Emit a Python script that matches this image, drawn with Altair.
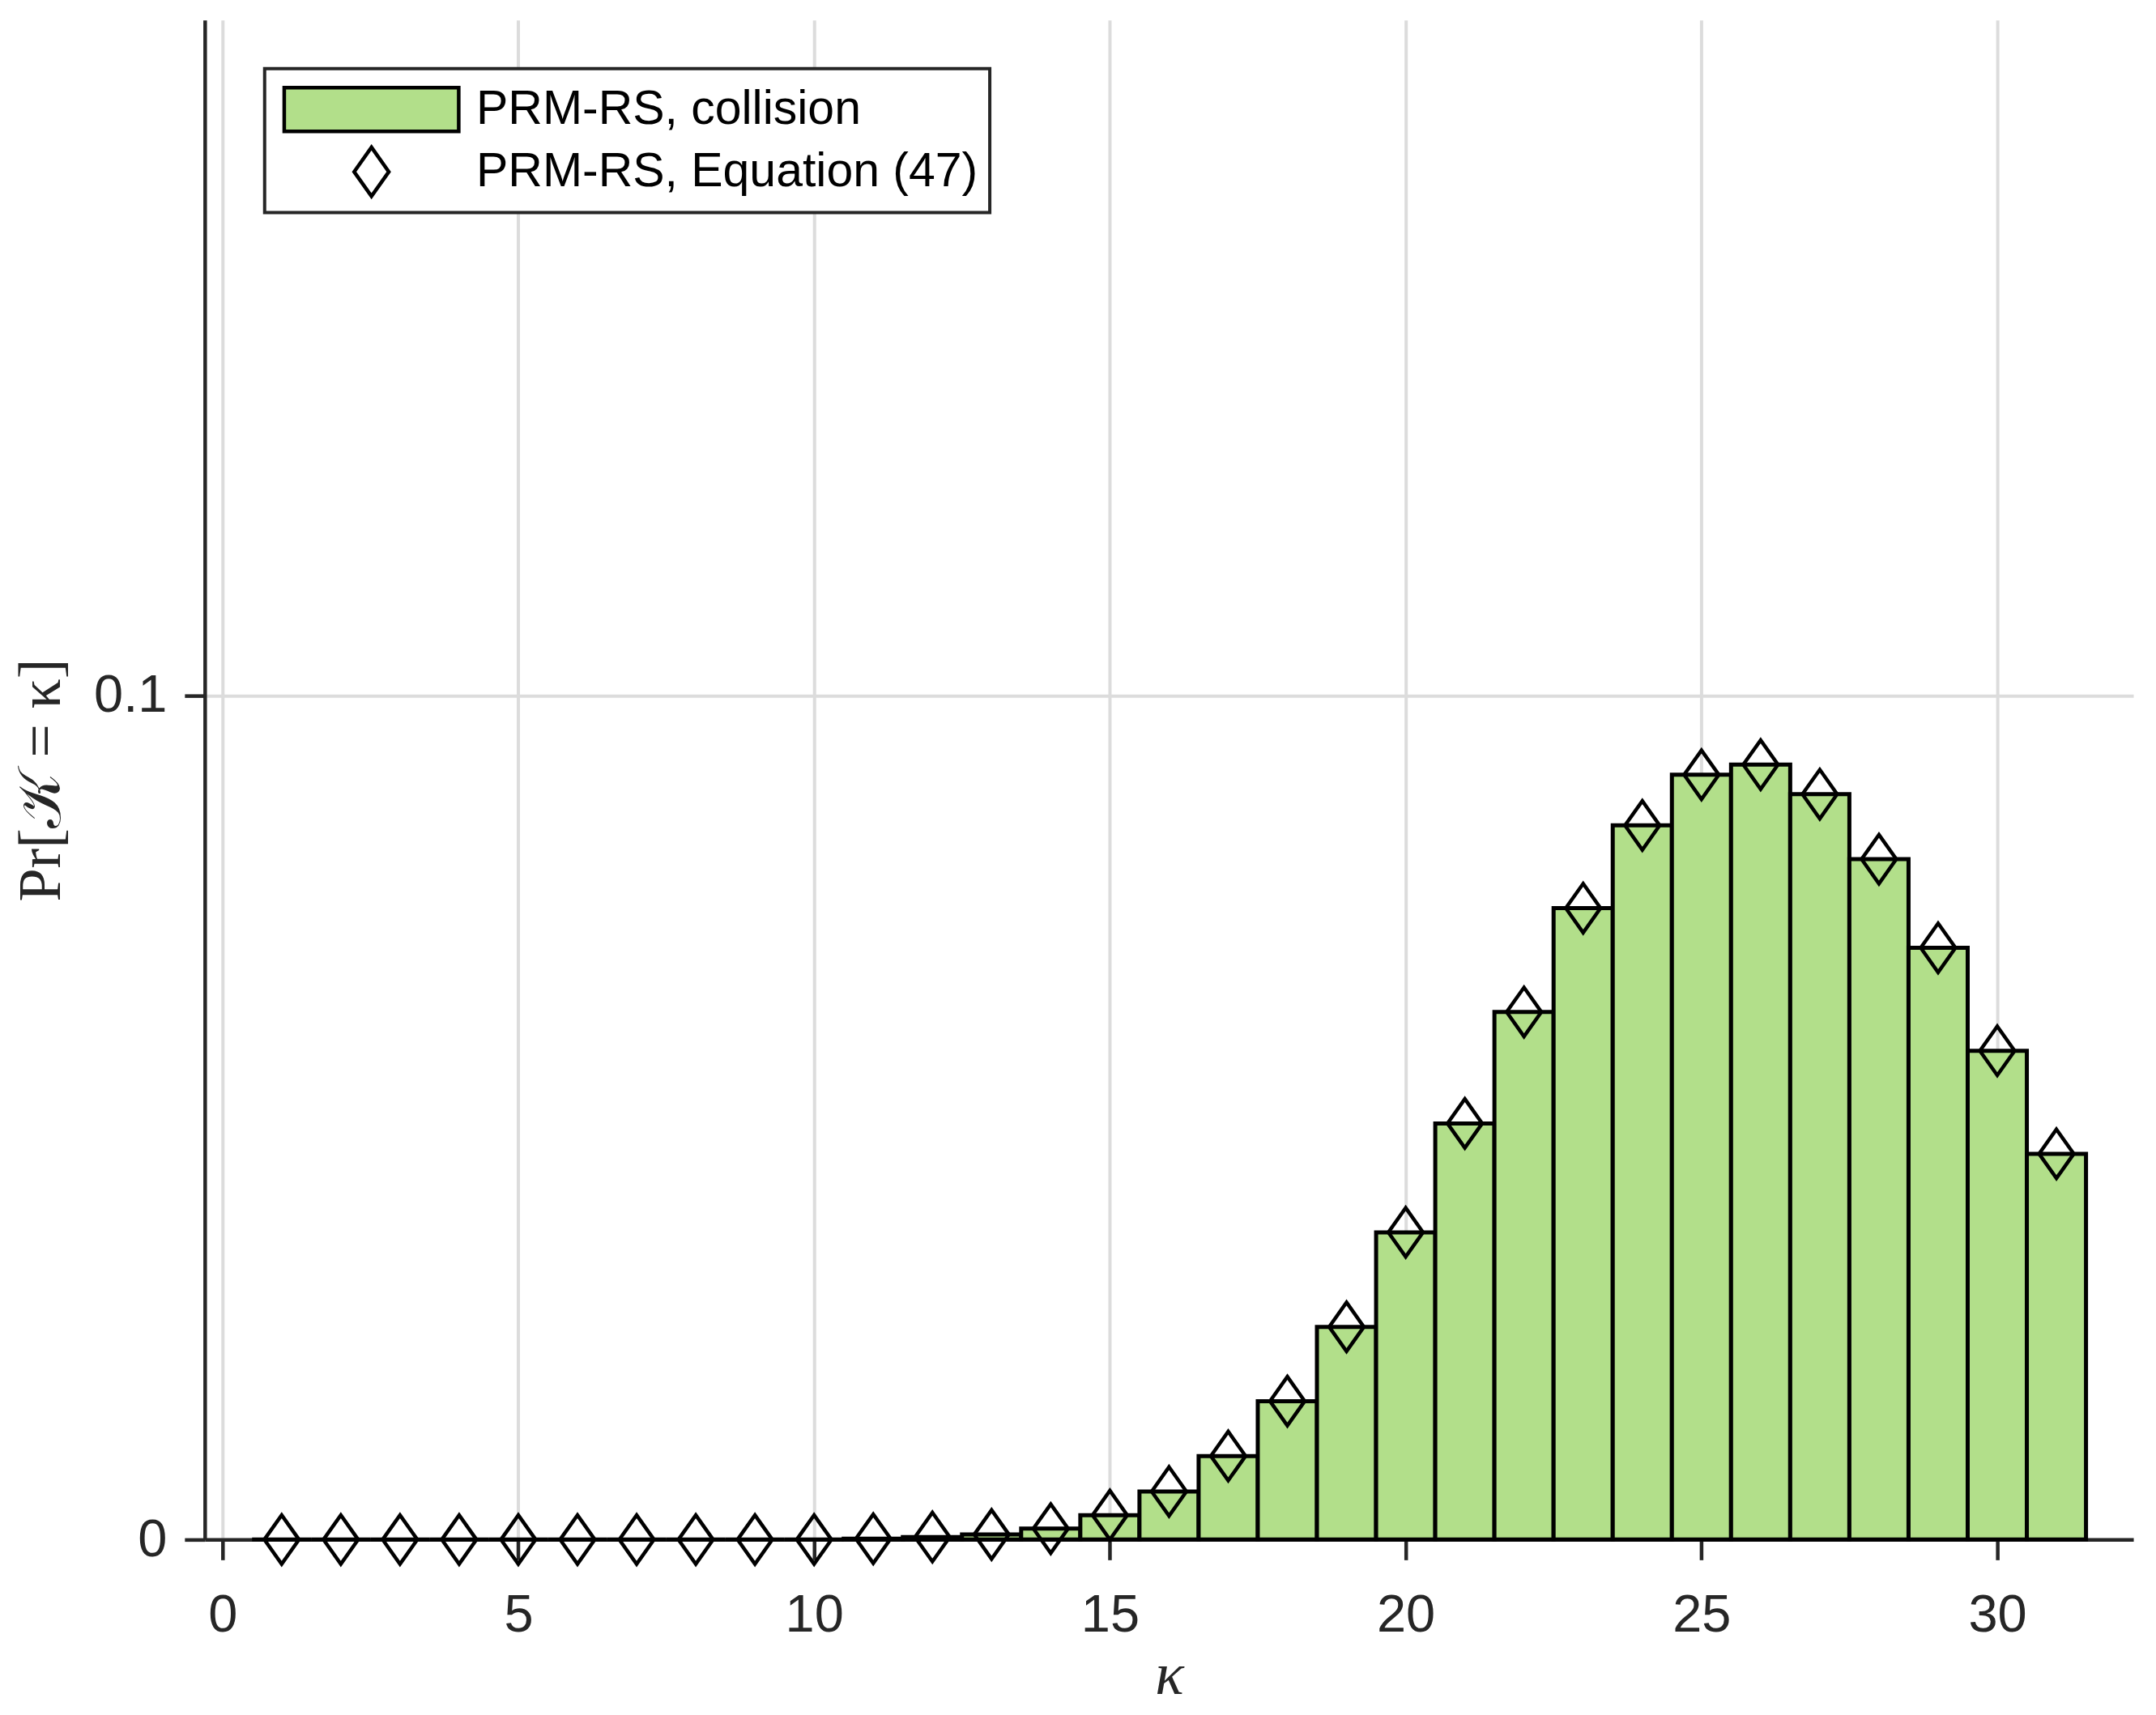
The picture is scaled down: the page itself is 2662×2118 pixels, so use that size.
import altair as alt
import pandas as pd

kappa = list(range(1, 32))
collision = [0, 0, 0, 0, 0, 0, 0, 0, 0, 0,
             0.0001, 0.0003, 0.0006, 0.0013, 0.0029, 0.0057, 0.0099, 0.0164,
             0.0252, 0.0364, 0.0493, 0.0625, 0.0748, 0.0846, 0.0906, 0.0918,
             0.0883, 0.0806, 0.0701, 0.0579, 0.0457]
equation = [0, 0, 0, 0, 0, 0, 0, 0, 0, 0,
            0.0001, 0.0003, 0.0006, 0.0013, 0.0029, 0.0057, 0.0099, 0.0164,
            0.0252, 0.0364, 0.0493, 0.0625, 0.0748, 0.0846, 0.0906, 0.0918,
            0.0883, 0.0806, 0.0701, 0.0579, 0.0457]
series_names = ["PRM-RS, collision", "PRM-RS, Equation (47)"]
x_ticks = [0, 5, 10, 15, 20, 25, 30]
y_ticks = [0, 0.1]

bars_df = pd.DataFrame({"k": kappa, "p": collision})
pts_df = pd.DataFrame({"k": kappa, "p": equation, "series": series_names[1]})

GREEN = "#b2df8a"
RECT_PATH = "M-0.98,-0.246H0.98V0.246H-0.98Z"
DIAMOND_PATH = "M0,-0.275L0.195,0L0,0.275L-0.195,0Z"
SYM_SIZE = 48400

xscale = alt.Scale(domain=[-0.3, 32.3], nice=False, zero=False)
yscale = alt.Scale(domain=[0, 0.18], nice=False)

xaxis = alt.Axis(values=x_ticks, format="d", title="κ", titleFontStyle="italic",
                 labelPadding=37, titlePadding=6)
yaxis = alt.Axis(values=y_ticks, format="~g", title="Pr[𝒦 = κ]",
                 labelPadding=22, titlePadding=26)

bars = alt.Chart(bars_df).transform_calculate(
    lo="datum.k - 0.5", hi="datum.k + 0.5"
).mark_bar(fill=GREEN, stroke="#000000", strokeWidth=5, opacity=1).encode(
    x=alt.X("lo:Q", scale=xscale, axis=xaxis),
    x2="hi:Q",
    y=alt.Y("p:Q", scale=yscale, axis=yaxis),
    y2=alt.datum(0),
)

legend = alt.Legend(title=None, orient="none", legendX=74, legendY=60)

points = alt.Chart(pts_df).mark_point(
    filled=True, strokeWidth=4.5, opacity=1, size=SYM_SIZE
).encode(
    x=alt.X("k:Q", scale=xscale),
    y=alt.Y("p:Q", scale=yscale),
    fill=alt.Fill("series:N",
                  scale=alt.Scale(domain=series_names, range=[GREEN, "rgba(0,0,0,0)"]),
                  legend=legend),
    stroke=alt.Stroke("series:N",
                      scale=alt.Scale(domain=series_names, range=["#000000", "#000000"]),
                      legend=legend),
    shape=alt.Shape("series:N",
                    scale=alt.Scale(domain=series_names, range=[RECT_PATH, DIAMOND_PATH]),
                    legend=legend),
)

chart = alt.layer(bars, points).properties(
    width=2383, height=1878,
    padding={"left": 245, "top": 16, "right": 20, "bottom": 210},
    autosize=alt.AutoSizeParams(type="none"),
).configure_view(strokeWidth=0).configure_axis(
    domainColor="#262626", domainWidth=4.5,
    tickColor="#262626", tickWidth=4.5, tickSize=25,
    gridColor="#dcdcdc", gridWidth=4,
    labelFont="Liberation Sans", labelFontSize=65, labelColor="#262626",
    titleFont="Liberation Serif", titleFontSize=74, titleFontWeight="normal",
    titleColor="#262626",
).configure_legend(
    padding=14.5, clipHeight=72, rowPadding=5, symbolOffset=5, labelOffset=17,
    labelFont="Liberation Sans", labelFontSize=59, labelColor="#000000",
    fillColor="#ffffff", strokeColor="#262626", strokeWidth=4,
    symbolSize=SYM_SIZE, symbolStrokeColor="#000000", symbolStrokeWidth=4.5,
    symbolOpacity=1, labelLimit=2000,
)

chart.save("out.html", embed_options={"renderer": "svg", "actions": False})
